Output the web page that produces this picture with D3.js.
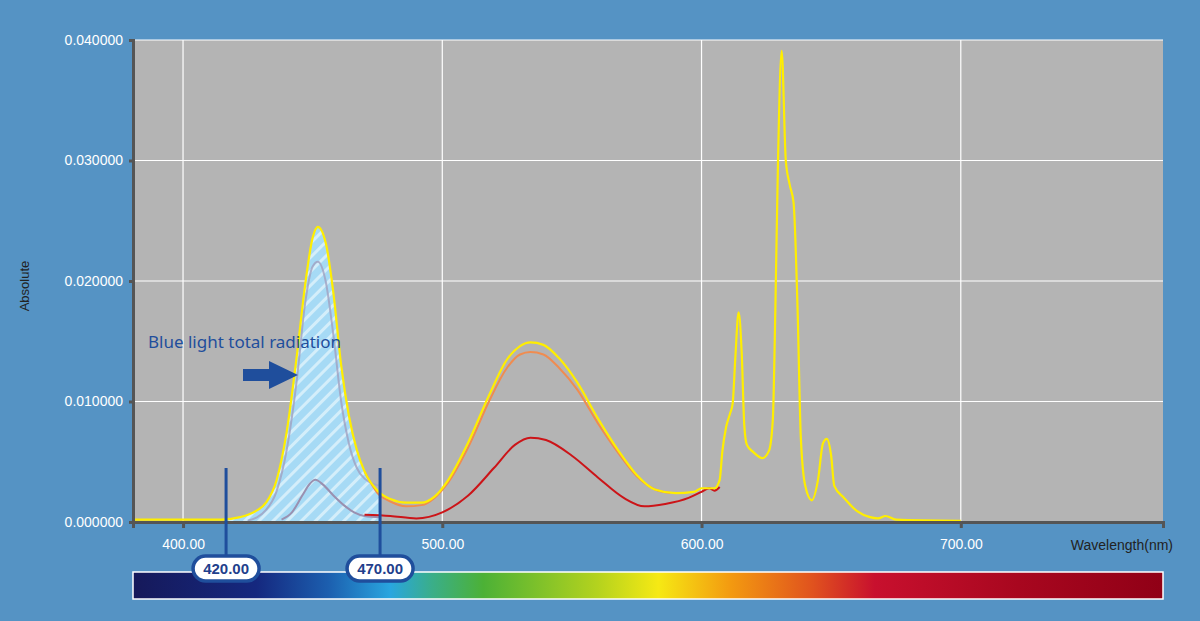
<!DOCTYPE html>
<html><head><meta charset="utf-8">
<script src="https://cdn.jsdelivr.net/npm/d3@7"></script>
<style>body{margin:0;background:#5593c4;}svg{display:block;font-family:"Liberation Sans",Arial,sans-serif;}</style>
</head><body><div id="chart"></div>
<script>
const xTicks = [400, 500, 600, 700];
const yTicks = [0, 0.01, 0.02, 0.03, 0.04];
const totalSpectrum = [[381,0.0002],[415,0.0002],[422,0.0004],[428,0.0009],[432,0.0016],[436,0.0034],[440,0.0075],[444,0.0140],[447,0.0195],[450,0.0236],[452,0.0245],[455,0.0232],[458,0.0190],[461,0.0130],[464,0.0088],[467,0.0060],[470,0.0042],[475,0.0026],[480,0.0019],[486,0.0016],[492,0.0016],[497,0.0021],[502,0.0034],[510,0.0066],[518,0.0105],[525,0.0135],[530,0.0146],[534,0.0149],[539,0.0147],[545,0.0136],[552,0.0116],[560,0.0086],[568,0.0059],[575,0.0039],[582,0.0027],[590,0.0024],[597,0.0025],[600,0.0028],[605,0.0028],[607,0.0035],[608,0.0058],[609.5,0.0079],[611,0.0090],[612,0.0098],[613,0.0135],[614.3,0.0174],[615.5,0.0140],[616.5,0.0080],[617.5,0.0064],[620,0.0058],[623.5,0.0053],[626,0.0059],[627.5,0.0085],[628.5,0.0180],[629.5,0.0300],[630.9,0.0391],[632.5,0.0300],[634,0.0280],[635.5,0.0265],[637,0.0180],[638.3,0.0070],[640,0.0030],[642.5,0.0018],[645,0.0036],[646.8,0.0065],[648.3,0.0069],[650,0.0055],[651.2,0.0030],[655,0.0020],[660,0.0009],[665,0.0004],[668,0.0003],[671,0.0005],[675,0.0002],[700,0.0001]];
const greenSpectrum = [[470,0.0042],[475,0.0024],[480,0.0017],[486,0.0013],[492,0.0014],[497,0.0020],[502,0.0032],[510,0.0062],[518,0.0100],[525,0.0128],[530,0.0139],[534,0.0141],[539,0.0139],[545,0.0128],[552,0.0110],[560,0.0082],[568,0.0057],[575,0.0038],[582,0.0027],[588,0.0024]];
const redSpectrum = [[470,0.0006],[480,0.0005],[490,0.0003],[500,0.0008],[510,0.0022],[520,0.0045],[528,0.0064],[534,0.0070],[540,0.0068],[550,0.0055],[560,0.0037],[570,0.0020],[578,0.0013],[586,0.0015],[595,0.0020],[600,0.0025],[603,0.0028],[605,0.0026],[607,0.0029]];
const blueChip = [[425,0.0001],[432,0.0010],[436,0.0025],[440,0.0060],[444,0.0120],[447,0.0180],[450,0.0212],[452,0.0216],[455,0.0200],[458,0.0155],[461,0.0100],[464,0.0065],[467,0.0045],[470,0.0036],[476,0.0030]];
const blueTail = [[438,0.0002],[442,0.0008],[446,0.0022],[449,0.0032],[451,0.0035],[454,0.0031],[458,0.0022],[462,0.0014],[466,0.0008],[470,0.0005],[476,0.0004]];
const blueRange = [416.6, 476];
const blueLabels = ["420.00", "470.00"];
const spectrumStops = [[0,"#16195a"],[0.12,"#15287f"],[0.19,"#1c5faf"],[0.25,"#29a6df"],[0.29,"#3aae8a"],[0.34,"#4cb136"],[0.45,"#b3d21e"],[0.51,"#f6e914"],[0.58,"#f39a10"],[0.66,"#e0521e"],[0.72,"#c8102e"],[0.86,"#a8071f"],[1,"#900016"]];

const W = 1200, H = 621;
const m = {l: 133, r: 37, t: 40, b: 99};
const svg = d3.select("#chart").append("svg").attr("width", W).attr("height", H);
const x = d3.scaleLinear().domain([380.7, 778]).range([m.l, W - m.r]);
const y = d3.scaleLinear().domain([0, 0.04]).range([H - m.b, m.t]);

const defs = svg.append("defs");
const pat = defs.append("pattern").attr("id", "stripes").attr("width", 10).attr("height", 10)
    .attr("patternUnits", "userSpaceOnUse").attr("patternTransform", "rotate(45)");
pat.append("rect").attr("width", 10).attr("height", 10).attr("fill", "#a6daf5");
pat.append("rect").attr("width", 3).attr("height", 10).attr("fill", "#d4eefa");
const grad = defs.append("linearGradient").attr("id", "spec");
spectrumStops.forEach(s => grad.append("stop").attr("offset", s[0]).attr("stop-color", s[1]));
defs.append("clipPath").attr("id", "blueClip").append("rect")
    .attr("x", x(blueRange[0])).attr("y", m.t).attr("width", x(blueRange[1]) - x(blueRange[0])).attr("height", H - m.b - m.t);

svg.append("rect").attr("x", m.l).attr("y", m.t).attr("width", W - m.r - m.l).attr("height", H - m.b - m.t).attr("fill", "#b4b4b4");
svg.append("g").selectAll("line").data(yTicks.slice(1)).join("line")
    .attr("x1", m.l).attr("x2", W - m.r).attr("y1", d => y(d)).attr("y2", d => y(d)).attr("stroke", "#fff").attr("stroke-width", 1.2);
svg.append("g").selectAll("line").data(xTicks).join("line")
    .attr("x1", d => x(d)).attr("x2", d => x(d)).attr("y1", m.t).attr("y2", H - m.b).attr("stroke", "#fff").attr("stroke-width", 1.2);

const line = d3.line().x(d => x(d[0])).y(d => y(d[1])).curve(d3.curveMonotoneX);
const area = d3.area().x(d => x(d[0])).y0(y(0)).y1(d => y(d[1])).curve(d3.curveMonotoneX);

svg.append("path").datum(totalSpectrum).attr("d", area).attr("fill", "url(#stripes)").attr("clip-path", "url(#blueClip)");
svg.append("path").datum(blueChip).attr("d", line).attr("fill", "none").attr("stroke", "#a0a0c0").attr("stroke-width", 2).attr("opacity", 0.8);
svg.append("path").datum(blueTail).attr("d", line).attr("fill", "none").attr("stroke", "#9a90b0").attr("stroke-width", 2);
svg.append("path").datum(redSpectrum).attr("d", line).attr("fill", "none").attr("stroke", "#cc1418").attr("stroke-width", 2);
svg.append("path").datum(greenSpectrum).attr("d", line).attr("fill", "none").attr("stroke", "#f08c50").attr("stroke-width", 2);
svg.append("path").datum(totalSpectrum).attr("d", line).attr("fill", "none").attr("stroke", "#ffee00").attr("stroke-width", 2.2);

// axes
const ax = svg.append("g").attr("transform", `translate(0,${H - m.b})`)
    .call(d3.axisBottom(x).tickValues(xTicks).tickFormat(d3.format(".2f")).tickSize(6).tickPadding(8));
const ay = svg.append("g").attr("transform", `translate(${m.l},0)`)
    .call(d3.axisLeft(y).tickValues(yTicks).tickFormat(d3.format(".6f")).tickSize(4).tickPadding(6));
[ax, ay].forEach(g => {
    g.select(".domain").attr("stroke", "#555").attr("stroke-width", 3);
    g.selectAll(".tick line").attr("stroke", "#555").attr("stroke-width", 3);
    g.selectAll("text").attr("fill", "#fff").attr("font-size", 14);
});
ax.selectAll(".tick text").attr("dy", "0.9em");
svg.append("text").attr("transform", "translate(29,286) rotate(-90)").attr("text-anchor", "middle")
    .attr("font-size", 13).attr("fill", "#222").text("Absolute");
svg.append("text").attr("x", 1173).attr("y", 550).attr("text-anchor", "end")
    .attr("font-size", 14).attr("fill", "#222").text("Wavelength(nm)");

// spectrum bar
svg.append("rect").attr("x", m.l).attr("y", 572).attr("width", W - m.r - m.l).attr("height", 27)
    .attr("fill", "url(#spec)").attr("stroke", "#fff").attr("stroke-width", 1.5);

// annotation
svg.append("text").attr("x", 148).attr("y", 348).attr("font-family", "Noto Sans, sans-serif")
    .attr("font-size", 17).attr("fill", "#1f4e9c").text("Blue light total radiation");
svg.append("path").attr("d", "M243,369H269V361L298,375L269,389V381H243Z").attr("fill", "#1f4e9c");

const mk = svg.append("g").selectAll("g").data(blueRange).join("g")
    .attr("transform", d => `translate(${x(d)},0)`);
mk.append("line").attr("y1", 468).attr("y2", 562).attr("stroke", "#1f4e9c").attr("stroke-width", 3);
mk.append("rect").attr("x", -33).attr("y", 556).attr("width", 66).attr("height", 25).attr("rx", 12.5)
    .attr("fill", "#fff").attr("stroke", "#1f4e9c").attr("stroke-width", 3.5);
mk.append("text").attr("y", 574).attr("text-anchor", "middle").attr("font-weight", "bold")
    .attr("font-size", 15).attr("fill", "#1f3f8c").text((d, i) => blueLabels[i]);
</script></body></html>
